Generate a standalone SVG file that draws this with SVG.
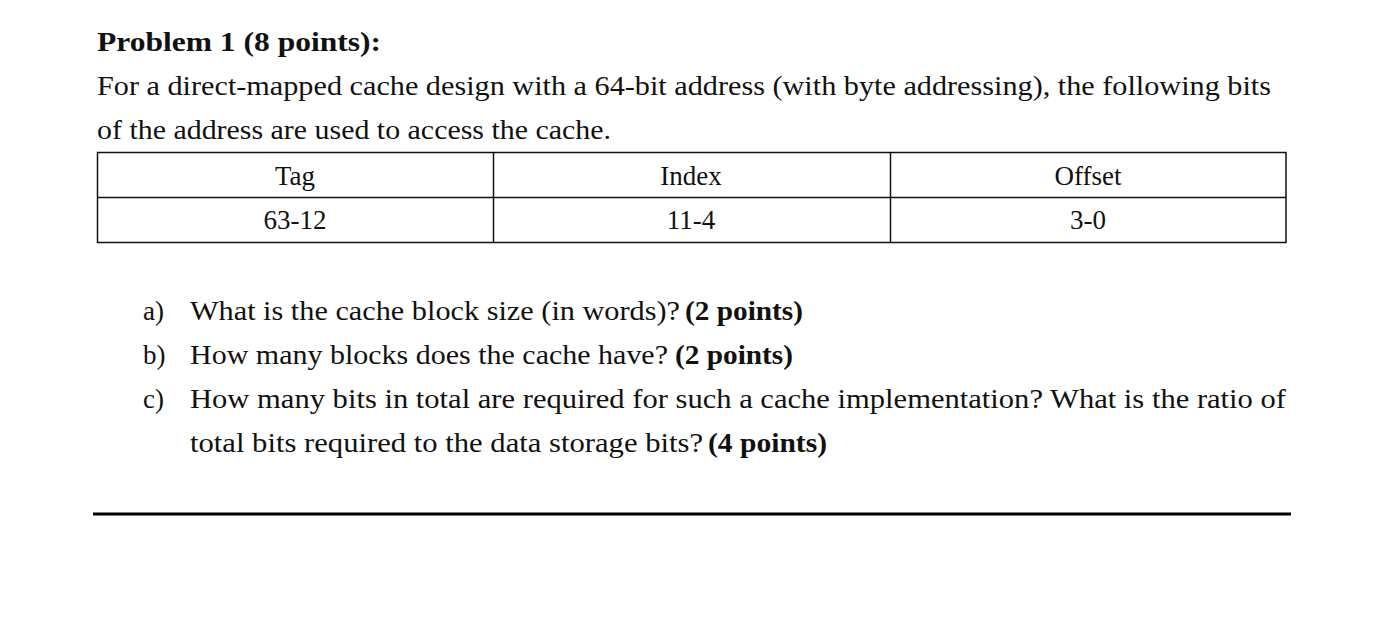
<svg xmlns="http://www.w3.org/2000/svg" width="1397" height="637" viewBox="0 0 1397 637">
<style>
text{font-family:"Liberation Serif","Times New Roman",serif;font-size:27px;fill:#111}
.b{font-weight:bold}
.c{text-anchor:middle}
.grid{fill:none;stroke:#111;stroke-width:1.5}
</style>
<rect width="1397" height="637" fill="#fff"/>
<g id="heading">
<text class="b" x="97" y="51" textLength="284" lengthAdjust="spacingAndGlyphs">Problem 1 (8 points):</text>
<text x="97" y="95" textLength="1174" lengthAdjust="spacingAndGlyphs">For a direct-mapped cache design with a 64-bit address (with byte addressing), the following bits</text>
<text x="97" y="139" textLength="514" lengthAdjust="spacingAndGlyphs">of the address are used to access the cache.</text>
</g>
<g id="table">
<rect class="grid" x="97.5" y="152.5" width="1188.5" height="90"/>
<line class="grid" x1="97.5" y1="197.5" x2="1286" y2="197.5"/>
<line class="grid" x1="493.5" y1="152.5" x2="493.5" y2="242.5"/>
<line class="grid" x1="890.5" y1="152.5" x2="890.5" y2="242.5"/>
<text class="c" x="295" y="185">Tag</text>
<text class="c" x="691" y="185">Index</text>
<text class="c" x="1088" y="185">Offset</text>
<text class="c" x="295" y="229">63-12</text>
<text class="c" x="691" y="229">11-4</text>
<text class="c" x="1088" y="229">3-0</text>
</g>
<g id="questions">
<text x="143" y="320">a)</text>
<text x="190" y="320" textLength="490" lengthAdjust="spacingAndGlyphs">What is the cache block size (in words)?</text>
<text class="b" x="685" y="320" textLength="118" lengthAdjust="spacingAndGlyphs">(2 points)</text>
<text x="143" y="364">b)</text>
<text x="190" y="364" textLength="478" lengthAdjust="spacingAndGlyphs">How many blocks does the cache have?</text>
<text class="b" x="675" y="364" textLength="118" lengthAdjust="spacingAndGlyphs">(2 points)</text>
<text x="143" y="408">c)</text>
<text x="190" y="408" textLength="1096" lengthAdjust="spacingAndGlyphs">How many bits in total are required for such a cache implementation? What is the ratio of</text>
<text x="190" y="452" textLength="513" lengthAdjust="spacingAndGlyphs">total bits required to the data storage bits?</text>
<text class="b" x="708" y="452" textLength="119" lengthAdjust="spacingAndGlyphs">(4 points)</text>
</g>
<line id="rule" x1="93" y1="514" x2="1291" y2="514" stroke="#000" stroke-width="3"/>
</svg>
